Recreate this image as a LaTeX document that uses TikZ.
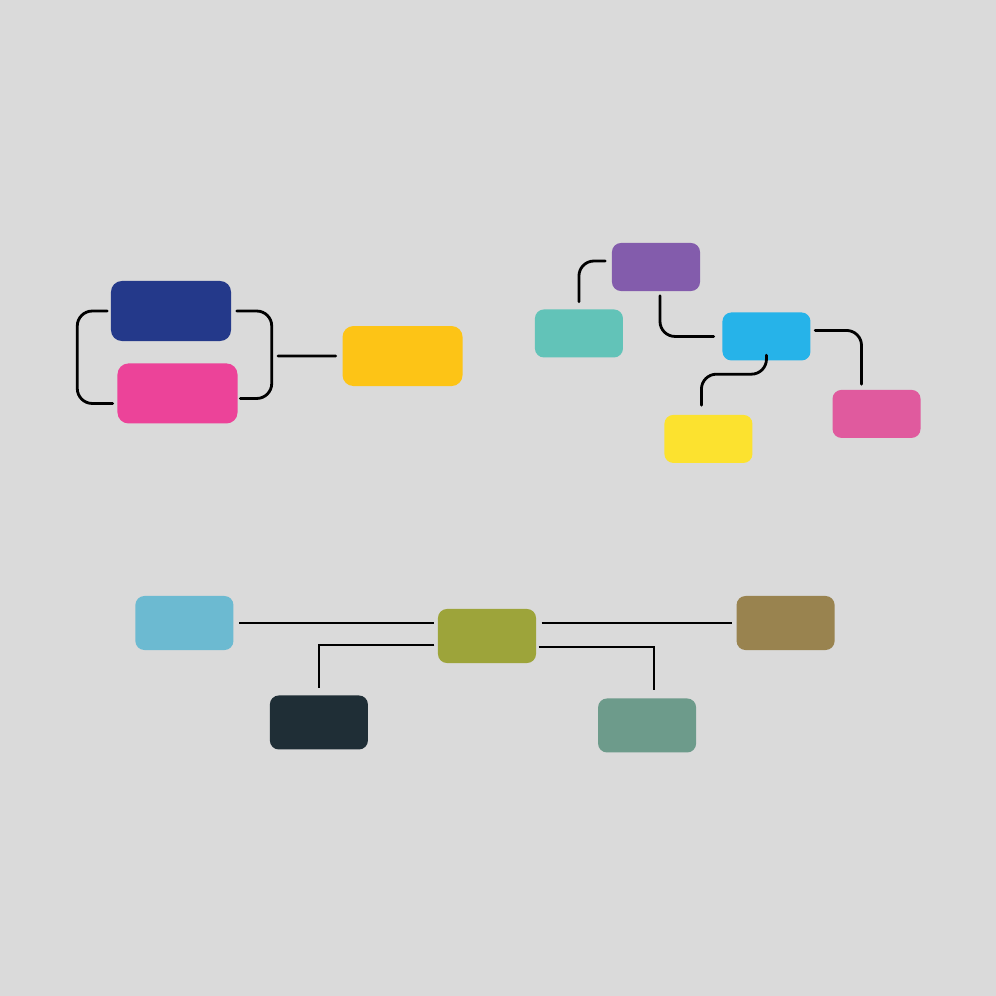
\documentclass[tikz,border=0pt]{standalone}
\usepackage{color}
\usepackage{tikz}
\usetikzlibrary{positioning}
\usepackage{xcolor}
\definecolor{bggray}{HTML}{DADADA}
\definecolor{navy}{HTML}{24398A}
\definecolor{rose}{HTML}{EC4399}
\definecolor{amber}{HTML}{FDC416}
\definecolor{violet}{HTML}{835CAC}
\definecolor{mint}{HTML}{62C3B8}
\definecolor{azure}{HTML}{26B3E9}
\definecolor{lemon}{HTML}{FCE22F}
\definecolor{cerise}{HTML}{E05A9E}
\definecolor{sky}{HTML}{6CBAD1}
\definecolor{moss}{HTML}{9DA43A}
\definecolor{dune}{HTML}{99834F}
\definecolor{ink}{HTML}{1F2E36}
\definecolor{sage}{HTML}{6D9B8B}

\begin{document}
\begin{tikzpicture}[x=0.01cm, y=-0.01cm,
        every node/.style = {inner sep=0pt, rounded corners=0.09cm},
          big/.style = {minimum width=1.2cm, minimum height=0.6cm, rounded corners=0.11cm},
          mid/.style = {minimum width=0.88cm, minimum height=0.48cm},
          low/.style = {minimum width=0.98cm, minimum height=0.54cm},
          link/.style = {line width=0.8pt, rounded corners=0.15cm, line cap=round},
          wire/.style = {line width=0.6pt}
        ]
        \fill[bggray] (0,0) rectangle (996,996);
        % top left
        \node (1) [big, fill=navy] at (171,311) {};
        \node (2) [big, fill=rose, below=0.21cm of 1, xshift=0.065cm] {};
        \node (3) [big, fill=amber, right=1.1cm of 1, yshift=-0.45cm] {};
        \coordinate (j) at (278,356);
        \draw[link, shorten <=0.03cm, shorten >=0.04cm] (1.west) -- ++(-33,0) |- ([yshift=-0.1cm]2.west);
        \draw[link, shorten <=0.05cm, shorten >=0.02cm] (1.east) -- ++(40,0) |- ([yshift=-0.05cm]2.east);
        \draw[link, shorten >=0.06cm] (j) -- (3.west);
        % top right
        \node (4) [mid, fill=violet] at (656,267) {};
        \node (5) [mid, fill=mint, below=0.17cm of 4, xshift=-0.77cm] {};
        \node (6) [mid, fill=azure, right=0.98cm of 5, yshift=-0.03cm] {};
        \node (7) [mid, fill=lemon, below=0.53cm of 6, xshift=-0.58cm] {};
        \node (8) [mid, fill=cerise, below=0.28cm of 6, xshift=1.1cm] {};
        \draw[link, shorten <=0.06cm, shorten >=0.07cm] ([yshift=0.06cm]4.west) -| (5.north);
        \draw[link, shorten <=0.04cm, shorten >=0.08cm] ([xshift=0.04cm]4.south) |- (6.west);
        \draw[link, shorten <=0.04cm, shorten >=0.05cm] ([yshift=0.06cm]6.east) -| ([xshift=-0.15cm]8.north);
        \draw[link, shorten <=0.06cm, shorten >=0.09cm] (6.south) -- ++(0,13) -| ([xshift=-0.07cm]7.north);
        % bottom
        \node (9) [low, fill=moss] at (487,636) {};
        \node (10) [low, fill=sky, left=2.03cm of 9, yshift=0.13cm] {};
        \node (11) [low, fill=dune, right=1.99cm of 9, yshift=0.13cm] {};
        \node (12) [low, fill=ink, below=0.31cm of 9, xshift=-1.68cm] {};
        \node (13) [low, fill=sage, below=0.34cm of 9, xshift=1.6cm] {};
        \draw[wire, shorten <=0.05cm, shorten >=0.03cm] (10.east) -- (10.east -| 9.west);
        \draw[wire, shorten <=0.05cm, shorten >=0.04cm] (11.west -| 9.east) -- (11.west);
        \draw[wire, shorten <=0.03cm, shorten >=0.07cm] ([yshift=-0.09cm]9.west) -| (12.north);
        \draw[wire, shorten <=0.02cm, shorten >=0.08cm] ([yshift=-0.11cm]9.east) -| ([xshift=0.07cm]13.north);
        \end{tikzpicture}
\end{document}
